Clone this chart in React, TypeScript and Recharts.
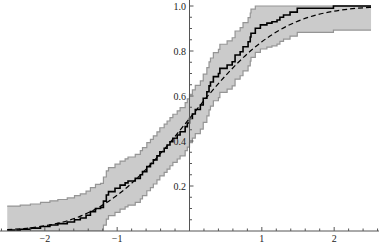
import { ComposedChart, Area, Line, XAxis, YAxis } from "recharts";

// empirical CDF: step start positions and levels, with its confidence band
const stepX = [
  -2.52, -2.34, -2.2, -2.06, -1.93, -1.82, -1.69, -1.59, -1.51, -1.43, -1.37,
  -1.3, -1.23, -1.19, -1.15, -1.12, -1.03, -0.96, -0.89, -0.85, -0.75, -0.68,
  -0.65, -0.59, -0.54, -0.5, -0.45, -0.41, -0.35, -0.31, -0.27, -0.23, -0.17,
  -0.13, -0.06, -0.03, 0.0, 0.04, 0.08, 0.15, 0.19, 0.24, 0.27, 0.29, 0.33,
  0.4, 0.42, 0.52, 0.59, 0.63, 0.7, 0.74, 0.81, 0.84, 0.85, 0.91, 0.98, 1.07,
  1.14, 1.21, 1.25, 1.3, 1.39, 1.49, 1.99, 2.51,
];
const ecdf = [
  0.004, 0.008, 0.013, 0.02, 0.027, 0.033, 0.04, 0.05, 0.058, 0.07, 0.086, 0.1,
  0.105, 0.133, 0.16, 0.175, 0.19, 0.204, 0.214, 0.222, 0.234, 0.25, 0.264,
  0.286, 0.3, 0.316, 0.334, 0.352, 0.368, 0.382, 0.397, 0.412, 0.427, 0.441,
  0.464, 0.48, 0.5, 0.52, 0.54, 0.56, 0.59, 0.619, 0.645, 0.662, 0.686, 0.7,
  0.723, 0.738, 0.752, 0.782, 0.797, 0.819, 0.841, 0.862, 0.879, 0.901, 0.916,
  0.924, 0.93, 0.938, 0.95, 0.96, 0.973, 0.99, 1.0, 1.0,
];
const bandLow = [
  0, 0, 0, 0, 0, 0, 0, 0, 0, 0, 0, 0, 0, 0.026, 0.053, 0.068, 0.083, 0.097,
  0.107, 0.115, 0.127, 0.143, 0.157, 0.179, 0.193, 0.209, 0.227, 0.245, 0.261,
  0.275, 0.29, 0.305, 0.32, 0.334, 0.357, 0.373, 0.393, 0.413, 0.433, 0.453,
  0.483, 0.512, 0.538, 0.555, 0.579, 0.593, 0.616, 0.631, 0.645, 0.675, 0.69,
  0.712, 0.734, 0.755, 0.772, 0.794, 0.809, 0.817, 0.823, 0.831, 0.843, 0.853,
  0.866, 0.883, 0.893, 0.893,
];
const bandHigh = [
  0.111, 0.115, 0.12, 0.127, 0.134, 0.14, 0.147, 0.157, 0.165, 0.177, 0.193,
  0.207, 0.212, 0.24, 0.267, 0.282, 0.297, 0.311, 0.321, 0.329, 0.341, 0.357,
  0.371, 0.393, 0.407, 0.423, 0.441, 0.459, 0.475, 0.489, 0.504, 0.519, 0.534,
  0.548, 0.571, 0.587, 0.607, 0.627, 0.647, 0.667, 0.697, 0.726, 0.752, 0.769,
  0.793, 0.807, 0.83, 0.845, 0.859, 0.889, 0.904, 0.926, 0.948, 0.969, 0.986,
  1, 1, 1, 1, 1, 1, 1, 1, 1, 1, 1,
];

// fitted distribution (dashed)
const curveX = [
  -2.52, -2.25, -2.0, -1.75, -1.5, -1.25, -1.0, -0.75, -0.5, -0.25, 0, 0.25,
  0.5, 0.75, 1.0, 1.25, 1.5, 1.75, 2.0, 2.25, 2.51,
];
const curveY = [
  0.006, 0.012, 0.023, 0.04, 0.067, 0.106, 0.159, 0.227, 0.309, 0.401, 0.5,
  0.599, 0.691, 0.773, 0.841, 0.894, 0.933, 0.96, 0.977, 0.988, 0.994,
];

const xTicks = [
  -2.6, -2.4, -2.2, -2, -1.8, -1.6, -1.4, -1.2, -1, -0.8, -0.6, -0.4, -0.2,
  0.2, 0.4, 0.6, 0.8, 1, 1.2, 1.4, 1.6, 1.8, 2, 2.2, 2.4, 2.6,
];
const xLabels = [-2, -1, 1, 2];
const yTicks = [
  0.05, 0.1, 0.15, 0.2, 0.25, 0.3, 0.35, 0.4, 0.45, 0.5, 0.55, 0.6, 0.65, 0.7,
  0.75, 0.8, 0.85, 0.9, 0.95, 1.0,
];
const yLabels = [0.2, 0.4, 0.6, 0.8, 1.0];

const W = 379;
const H = 245;
const X_DOMAIN = [-2.62, 2.62];
const Y_DOMAIN = [0, 1.0267];
const AXIS = "#555";
const FONT = "'Liberation Serif', 'Times New Roman', serif";

const rows = stepX.map((x, i) => ({
  x,
  ecdf: ecdf[i],
  lo: bandLow[i],
  hi: bandHigh[i],
  band: [bandLow[i], bandHigh[i]],
}));
const curve = curveX.map((x, i) => ({ x, cdf: curveY[i] }));

const isLabel = (list: number[], v: number) =>
  list.some((l) => Math.abs(l - v) < 1e-6);

function XTick(props: any) {
  const { x, y, payload } = props;
  const v = payload.value as number;
  const major = isLabel(xLabels, v);
  return (
    <g>
      <line x1={x} x2={x} y1={y} y2={y - (major ? 4 : 2.5)} stroke={AXIS} />
      {major && (
        <text x={x} y={y + 11} textAnchor="middle" fontSize={10} fontFamily={FONT} fill="#222">
          {v < 0 ? `\u2212${-v}` : `${v}`}
        </text>
      )}
    </g>
  );
}

function YTick(props: any) {
  const { x, y, payload } = props;
  const v = payload.value as number;
  const major = isLabel(yLabels, v);
  return (
    <g>
      <line x1={x} x2={x + (major ? 4 : 2.5)} y1={y} y2={y} stroke={AXIS} />
      {major && (
        <text x={x - 3.5} y={y + 3.5} textAnchor="end" fontSize={10} fontFamily={FONT} fill="#222">
          {v.toFixed(1)}
        </text>
      )}
    </g>
  );
}

export default function App() {
  return (
    <div style={{ position: "absolute", left: 0, top: 0, width: W, height: H, background: "#fff" }}>
      {/* data layer with the x axis at y = 0 */}
      <div style={{ position: "absolute", left: 0, top: 0 }}>
        <ComposedChart width={W} height={H} data={rows} margin={{ top: 0, right: 0, bottom: 0, left: 0 }}>
          <XAxis
            dataKey="x"
            type="number"
            domain={X_DOMAIN}
            allowDataOverflow
            ticks={xTicks}
            interval={0}
            tickSize={0}
            tickMargin={0}
            tickLine={false}
            axisLine={{ stroke: AXIS }}
            tick={<XTick />}
            height={14}
          />
          <YAxis type="number" domain={Y_DOMAIN} allowDataOverflow hide />

          {/* confidence band */}
          <Area
            dataKey="band"
            type="stepAfter"
            fill="#cbcbcb"
            fillOpacity={1}
            stroke="none"
            dot={false}
            activeDot={false}
            isAnimationActive={false}
          />
          <Line dataKey="lo" type="stepAfter" stroke="#959595" strokeWidth={1.2} dot={false} activeDot={false} isAnimationActive={false} />
          <Line dataKey="hi" type="stepAfter" stroke="#959595" strokeWidth={1.2} dot={false} activeDot={false} isAnimationActive={false} />

          {/* fitted CDF */}
          <Line
            data={curve}
            dataKey="cdf"
            type="monotone"
            stroke="#000"
            strokeWidth={1.2}
            strokeDasharray="5 3"
            dot={false}
            activeDot={false}
            isAnimationActive={false}
          />

          {/* empirical CDF */}
          <Line dataKey="ecdf" type="stepAfter" stroke="#000" strokeWidth={1.6} dot={false} activeDot={false} isAnimationActive={false} />
        </ComposedChart>
      </div>

      {/* y axis drawn through x = 0 */}
      <div style={{ position: "absolute", left: 0, top: 0, pointerEvents: "none" }}>
        <ComposedChart width={W} height={H} data={rows} margin={{ top: 0, right: 0, bottom: 14, left: 149.5 }}>
          <XAxis dataKey="x" type="number" domain={[0, 2.62]} allowDataOverflow hide />
          <YAxis
            type="number"
            domain={Y_DOMAIN}
            allowDataOverflow
            ticks={yTicks}
            interval={0}
            width={40}
            tickSize={0}
            tickMargin={0}
            tickLine={false}
            axisLine={{ stroke: AXIS }}
            tick={<YTick />}
          />
        </ComposedChart>
      </div>
    </div>
  );
}
